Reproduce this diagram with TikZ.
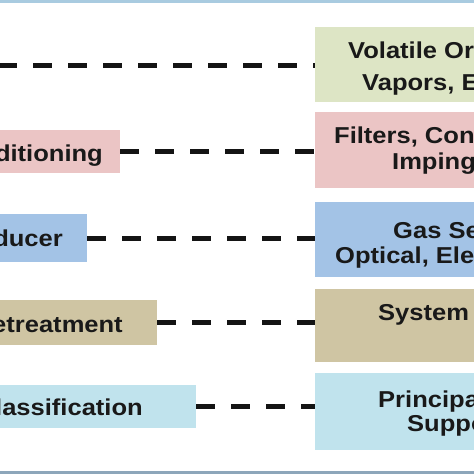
\documentclass[tikz,border=0pt]{standalone}
\usepackage{fontspec}
\setmainfont{Liberation Sans}[FakeStretch=1.11]
\begin{document}
\begin{tikzpicture}[x=1pt,y=-1pt,
  box/.style={draw=none,rectangle,inner sep=0pt,anchor=north west},
  lbl/.style={inner sep=0pt,font=\fontsize{23}{27}\selectfont\bfseries,text=black!90},
  conn/.style={line width=5pt,draw=black!92,dash pattern=on 19pt off 16pt}]
\definecolor{cgreen}{HTML}{DDE5C5}
\definecolor{cpink}{HTML}{EBC5C5}
\definecolor{cblue}{HTML}{A3C3E6}
\definecolor{ctan}{HTML}{CFC5A3}
\definecolor{ccyan}{HTML}{C0E3ED}
\definecolor{ctop}{HTML}{A9CBE0}
\definecolor{cbot}{HTML}{8DA6BA}
\useasboundingbox (0,0) rectangle (474,474);
\clip (0,0) rectangle (474,474);
\fill[white] (0,0) rectangle (474,474);
% frame lines
\node[box,fill=ctop,minimum width=474pt,minimum height=3pt] (topline) at (0,0) {};
\node[box,fill=cbot,minimum width=474pt,minimum height=3pt] (botline) at (0,471) {};
% right boxes
\node[box,fill=cgreen,minimum width=200pt,minimum height=75pt] (r1) at (315,27) {};
\node[box,fill=cpink,minimum width=200pt,minimum height=76pt] (r2) at (315,112) {};
\node[box,fill=cblue,minimum width=200pt,minimum height=75pt] (r3) at (315,202) {};
\node[box,fill=ctan,minimum width=200pt,minimum height=73pt] (r4) at (315,289) {};
\node[box,fill=ccyan,minimum width=200pt,minimum height=77pt] (r5) at (315,373) {};
% left boxes
\node[box,anchor=north east,fill=cpink,minimum width=200pt,minimum height=43pt] (l2) at (120,130) {};
\node[box,anchor=north east,fill=cblue,minimum width=200pt,minimum height=48pt] (l3) at (87,214) {};
\node[box,anchor=north east,fill=ctan,minimum width=200pt,minimum height=45pt] (l4) at (157,300) {};
\node[box,anchor=north east,fill=ccyan,minimum width=200pt,minimum height=43pt] (l5) at (196,385) {};
\coordinate (l1) at (0,65);
% connectors
\draw[conn,dash phase=2pt] (l1) -- (r1.west |- l1);
\draw[conn] (l2.east) -- (r2.west |- l2.east);
\draw[conn] (l3.east) -- (r3.west |- l3.east);
\draw[conn] (l4.east) -- (r4.west |- l4.east);
\draw[conn] (l5.east) -- (r5.west |- l5.east);
% left texts
\node[lbl,anchor=base east] (tl2) at (103,161) {Sample Conditioning};
\node[lbl,anchor=base east] (tl3) at (63,246) {Transducer};
\node[lbl,anchor=base east] (tl4) at (123,332) {Data Pretreatment};
\node[lbl,anchor=base east] (tl5) at (143,415) {Pattern Classification};
% right texts
\node[lbl,anchor=base west] (tr1a) at (348,58) {Volatile Organic Compounds};
\node[lbl,anchor=base west] (tr1b) at (362,90) {Vapors, Emissions};
\node[lbl,anchor=base west] (tr2a) at (334,143) {Filters, Condensers,};
\node[lbl,anchor=base west] (tr2b) at (392,169) {Impingers};
\node[lbl,anchor=base west] (tr3a) at (393,238) {Gas Sensors:};
\node[lbl,anchor=base west] (tr3b) at (335,263) {Optical, Electrochemical};
\node[lbl,anchor=base west] (tr4a) at (378,320) {System};
\node[lbl,anchor=base west] (tr5a) at (378,407) {Principal Component};
\node[lbl,anchor=base west] (tr5b) at (407,431) {Support Vector};
\end{tikzpicture}
\end{document}
